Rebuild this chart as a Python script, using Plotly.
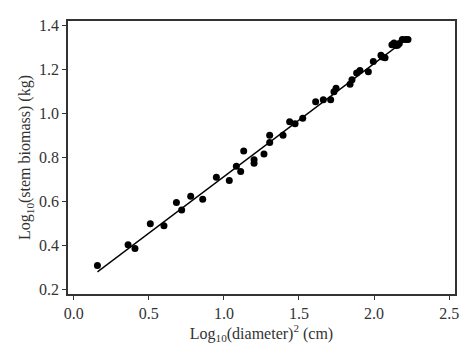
import plotly.graph_objects as go

# Observed data (log10 diameter^2 vs log10 stem biomass)
log_diam2 = [0.158, 0.362, 0.408, 0.510, 0.601, 0.684, 0.719, 0.779, 0.859, 0.950,
             1.036, 1.083, 1.112, 1.132, 1.201, 1.201, 1.267, 1.305, 1.305, 1.394,
             1.438, 1.474, 1.525, 1.611, 1.662, 1.711, 1.733, 1.747, 1.840, 1.853,
             1.884, 1.906, 1.962, 1.995, 2.046, 2.055, 2.073, 2.119, 2.133, 2.146,
             2.157, 2.168, 2.188, 2.210, 2.226]
log_biomass = [0.308, 0.403, 0.386, 0.498, 0.489, 0.594, 0.561, 0.623, 0.609, 0.709,
               0.695, 0.759, 0.736, 0.829, 0.789, 0.773, 0.815, 0.867, 0.900, 0.900,
               0.962, 0.953, 0.977, 1.053, 1.062, 1.062, 1.098, 1.114, 1.132, 1.153,
               1.183, 1.195, 1.189, 1.235, 1.264, 1.256, 1.253, 1.312, 1.320, 1.308,
               1.309, 1.317, 1.336, 1.335, 1.336]

# Fitted regression line
fit_intercept = 0.198
fit_slope = 0.514
fit_x = [0.158, 2.212]
fit_y = [fit_intercept + fit_slope * v for v in fit_x]

x_ticks = [0.0, 0.5, 1.0, 1.5, 2.0, 2.5]
x_tick_labels = ["0.0", "0.5", "1.0", "1.5", "2.0", "2.5"]
y_ticks = [0.2, 0.4, 0.6, 0.8, 1.0, 1.2, 1.4]
y_tick_labels = ["0.2", "0.4", "0.6", "0.8", "1.0", "1.2", "1.4"]

fig = go.Figure()
fig.add_trace(go.Scatter(x=fit_x, y=fit_y, mode="lines",
                         line=dict(color="black", width=1.3), hoverinfo="skip"))
fig.add_trace(go.Scatter(x=log_diam2, y=log_biomass, mode="markers",
                         marker=dict(color="black", size=7, line=dict(width=0))))

font_family = "Liberation Serif, Times New Roman, serif"
axis_common = dict(showline=True, linecolor="#333333", linewidth=1.5, mirror=True,
                   ticks="outside", ticklen=4, tickwidth=1.2, tickcolor="#333333",
                   showgrid=False, zeroline=False, automargin=False,
                   tickfont=dict(family=font_family, size=16, color="#333333"))

# page body adds an 8px offset, so the figure is sized to fill the rest of the window
fig.update_layout(
    width=466, height=356,
    margin=dict(l=60, r=19, t=13, b=70),
    paper_bgcolor="white", plot_bgcolor="white",
    showlegend=False,
    font=dict(family=font_family, color="#333333"),
    xaxis=dict(range=[-0.038, 2.539], tickvals=x_ticks, ticktext=x_tick_labels,
               title=dict(text="Log<sub>10</sub>(diameter)<sup>2</sup> (cm)",
                          font=dict(family=font_family, size=16, color="#333333"),
                          standoff=4),
               **axis_common),
    yaxis=dict(range=[0.1786, 1.4196], tickvals=y_ticks, ticktext=y_tick_labels,
               title=dict(text="Log<sub>10</sub>(stem biomass) (kg)",
                          font=dict(family=font_family, size=16, color="#333333"),
                          standoff=4),
               **axis_common),
)

fig.write_html("out.html")
